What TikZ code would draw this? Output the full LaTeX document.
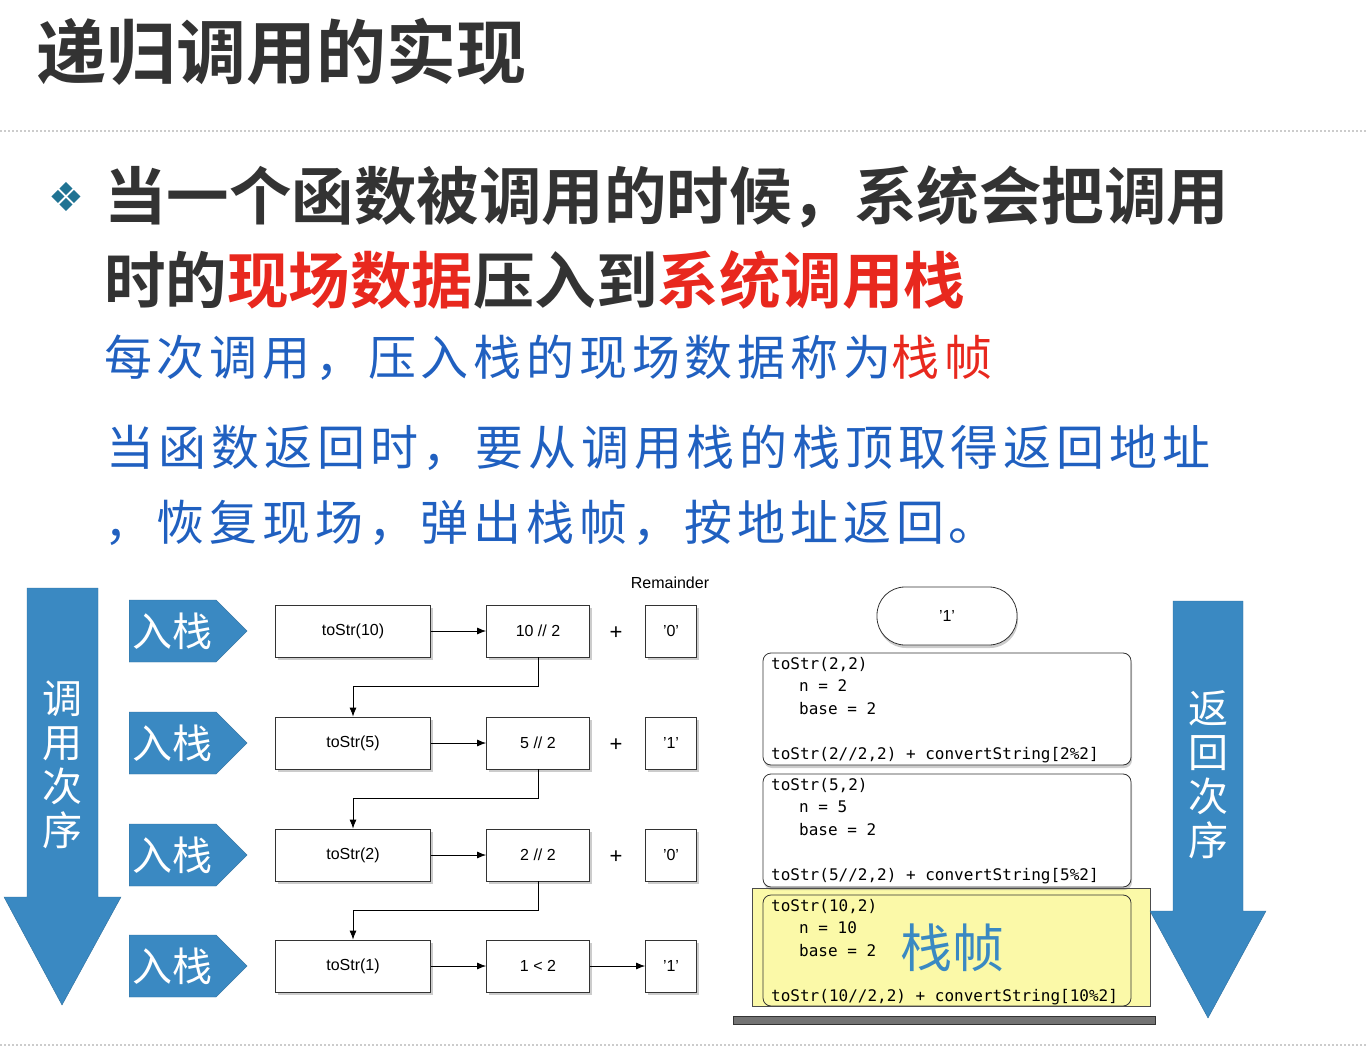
\documentclass[tikz,border=0pt]{standalone}
\usepackage{fontspec}
\setmainfont{Liberation Sans}
\newfontfamily\cjk{Noto Sans CJK SC}
\newfontfamily\cjkb{Noto Sans CJK SC Bold}
\newfontfamily\monof{DejaVu Sans Mono}
\newfontfamily\symf{DejaVu Sans}
\usetikzlibrary{shapes.symbols,shadows,arrows.meta}
\definecolor{dk}{HTML}{333333}
\definecolor{rd}{HTML}{E8281E}
\definecolor{bl}{HTML}{2060C0}
\definecolor{ab}{HTML}{3A89C2}
\definecolor{abd}{HTML}{2E6E9C}
\definecolor{yl}{HTML}{FBF9A8}
\tikzset{
  pushsig/.style={signal, signal to=east, fill=ab, draw=abd, minimum width=118pt, minimum height=62pt, inner sep=0pt, text=white, font=\cjk\fontsize{40}{40}\selectfont, anchor=west},
  fbox/.style={draw=black!80, thick, fill=white, minimum height=52pt, font=\fontsize{16}{16}\selectfont, drop shadow={shadow xshift=2pt,shadow yshift=-3pt,opacity=0.4}},
  conn/.style={-{Latex[length=9pt,width=7pt]}, thick},
  frame/.style={draw=black!80, thick, rounded corners=8pt, fill=white, drop shadow={shadow xshift=1pt,shadow yshift=-3pt,opacity=0.4}},
  mono/.style={font=\monof\fontsize{16}{22.5}\selectfont, align=left, anchor=north west, inner sep=0pt},
  bigarrow/.style={fill=ab, draw=abd},
  vtext/.style={text=white, font=\cjk\fontsize{40}{44}\selectfont, align=center}
}
\begin{document}
\begin{tikzpicture}[x=1pt,y=-1pt]
\useasboundingbox (0,0) rectangle (1368,1056);
% title
\node[anchor=west, text=dk, font=\cjkb\fontsize{70}{70}\selectfont, inner sep=0pt] (title) at (36,52) {递归调用的实现};
\draw[gray!40, line width=2pt, dotted] (0,131) -- (1368,131);
\draw[gray!40, line width=2pt, dotted] (0,1045) -- (1368,1045);
% bullet text
\node[text=abd!70!teal, font=\symf\fontsize{40}{40}\selectfont, inner sep=0pt] (bul) at (66,197) {❖};
\node[anchor=west, text=dk, font=\cjkb\fontsize{62.5}{62.5}\selectfont, inner sep=0pt] (l1) at (104,197) {当一个函数被调用的时候，系统会把调用};
\node[anchor=west, text=dk, font=\cjkb\fontsize{61.5}{61.5}\selectfont, inner sep=0pt] (l2) at (104,280) {时的\textcolor{rd}{现场数据}压入到\textcolor{rd}{系统调用栈}};
\node[anchor=west, text=bl, font=\cjk\fontsize{48}{48}\selectfont\addfontfeature{LetterSpace=10}, inner sep=0pt] (l3) at (104,358) {每次调用，压入栈的现场数据称为\textcolor{rd}{栈帧}};
\node[anchor=west, text=bl, font=\cjk\fontsize{48}{48}\selectfont\addfontfeature{LetterSpace=10}, inner sep=0pt] (l4) at (106,448) {当函数返回时，要从调用栈的栈顶取得返回地址};
\node[anchor=west, text=bl, font=\cjk\fontsize{48}{48}\selectfont\addfontfeature{LetterSpace=10}, inner sep=0pt] (l5) at (104,523) {，恢复现场，弹出栈帧，按地址返回。};
% left big arrow
\draw[bigarrow] (27,588) -- (98,588) -- (98,897) -- (121,897) -- (62,1005) -- (4,897) -- (27,897) -- cycle;
\node[vtext] (callord) at (62,765) {调\\用\\次\\序};
% rows
\foreach \i/\y/\a/\b/\c in {1/631/{toStr(10)}/{10 // 2}/{'0'},2/743/{toStr(5)}/{5 // 2}/{'1'},3/855/{toStr(2)}/{2 // 2}/{'0'},4/966/{toStr(1)}/{1 < 2}/{'1'}}{
  \node[pushsig] (p\i) at (129,\y) {入栈};
  \node[fbox, minimum width=155pt] (t\i) at (353,\y) {\a};
  \node[fbox, minimum width=103pt] (m\i) at (538,\y) {\b};
  \node[fbox, minimum width=51pt] (r\i) at (671,\y) {\c};
  \draw[conn] (t\i) -- (m\i);
}
\foreach \i in {1,2,3}{\node[font=\fontsize{22}{22}\selectfont] (plus\i) at (616,{633+112*(\i-1)}) {+};}
\draw[conn] (m4) -- (r4);
\draw[conn] (m1.south) -- ++(0,29) -| (t2.north);
\draw[conn] (m2.south) -- ++(0,29) -| (t3.north);
\draw[conn] (m3.south) -- ++(0,29) -| (t4.north);
\node[font=\fontsize{16}{16}\selectfont] (rem) at (670,583) {Remainder};
% right stack
\node[frame, rounded corners=28pt, minimum width=140pt, minimum height=58pt, font=\fontsize{16}{16}\selectfont] (one) at (947,616) {'1'};
\fill[yl] (752,888) rectangle (1150,1006);
\draw[frame] (763,653) rectangle (1131,765);
\draw[frame] (763,774) rectangle (1131,887);
\draw[draw=black!80, thick, rounded corners=8pt, fill=yl] (763,895) rectangle (1131,1006);
\draw[black!70, thick] (752,888) rectangle (1150,1006);
\fill[black!55] (733,1016) rectangle (1155,1024);
\draw[black!80] (733,1016) rectangle (1155,1024);
\node[mono] (f1) at (771,657) {toStr(2,2)\\\hspace*{28pt}n = 2\\\hspace*{28pt}base = 2\\\mbox{}\\toStr(2//2,2) + convertString[2\%2]};
\node[mono] (f2) at (771,778) {toStr(5,2)\\\hspace*{28pt}n = 5\\\hspace*{28pt}base = 2\\\mbox{}\\toStr(5//2,2) + convertString[5\%2]};
\node[mono] (f3) at (771,899) {toStr(10,2)\\\hspace*{28pt}n = 10\\\hspace*{28pt}base = 2\\\mbox{}\\toStr(10//2,2) + convertString[10\%2]};
\node[text=ab, font=\cjk\fontsize{52}{52}\selectfont] (zz) at (952,948) {栈帧};
% right big arrow
\draw[bigarrow] (1173,601) -- (1243,601) -- (1243,911) -- (1266,911) -- (1208,1018) -- (1150,911) -- (1173,911) -- cycle;
\node[vtext] (retord) at (1208,775) {返\\回\\次\\序};
\end{tikzpicture}
\end{document}
